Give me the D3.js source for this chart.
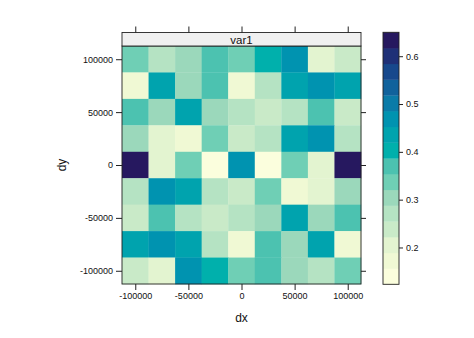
<!DOCTYPE html>
<html>
<head>
<meta charset="utf-8">
<script src="https://cdn.jsdelivr.net/npm/d3@7"></script>
<style>
    body { margin: 0; background: #fff; }
    text { font-family: "Liberation Sans", Arial, Helvetica, sans-serif; fill: #111; }
</style>
</head>
<body>
<svg id="chart" width="474" height="338"></svg>
<script>
// lag grid (cell centres)
var dxValues = [-100000, -75000, -50000, -25000, 0, 25000, 50000, 75000, 100000];
var dyValues = [100000, 75000, 50000, 25000, 0, -25000, -50000, -75000, -100000];

// semivariance, one row per dy (top row first)
var row1 = [0.335, 0.270, 0.305, 0.370, 0.335, 0.400, 0.470, 0.205, 0.240];
var row2 = [0.170, 0.435, 0.305, 0.370, 0.170, 0.270, 0.435, 0.470, 0.435];
var row3 = [0.370, 0.305, 0.435, 0.305, 0.270, 0.240, 0.270, 0.370, 0.240];
var row4 = [0.305, 0.205, 0.170, 0.335, 0.240, 0.270, 0.435, 0.470, 0.270];
var row5 = [0.650, 0.205, 0.335, 0.123, 0.470, 0.123, 0.335, 0.205, 0.650];
var row6 = [0.270, 0.470, 0.435, 0.270, 0.240, 0.335, 0.170, 0.205, 0.305];
var row7 = [0.240, 0.370, 0.270, 0.240, 0.270, 0.305, 0.435, 0.305, 0.370];
var row8 = [0.435, 0.470, 0.435, 0.270, 0.170, 0.370, 0.305, 0.435, 0.170];
var row9 = [0.240, 0.205, 0.470, 0.400, 0.335, 0.370, 0.305, 0.270, 0.335];
var gamma = [row1, row2, row3, row4, row5, row6, row7, row8, row9];

var xTicks = [-100000, -50000, 0, 50000, 100000];
var yTicks = [-100000, -50000, 0, 50000, 100000];
var colorTicks = [0.2, 0.3, 0.4, 0.5, 0.6];
var stripLabel = "var1";

// 16 regions, light -> dark
var palette = ["#fbfedd", "#f0f9d4", "#e3f4d0", "#c9eac8", "#b5e3c3", "#9bd8bb",
               "#6fcfb5", "#4cc2b0", "#00b0ac", "#00a3ae", "#0093b0", "#0a7ba8",
               "#10629c", "#17488c", "#1f3077", "#26185f"];

var svg = d3.select("#chart");
var cellStep = 25000;

var x = d3.scaleLinear().domain([-112500, 112500]).range([122, 361]);
var y = d3.scaleLinear().domain([-112500, 112500]).range([284, 46]);

var cells = [];
gamma.forEach(function(row, i){
    row.forEach(function(v, j){
        cells.push({dx: dxValues[j], dy: dyValues[i], v: v});
    });
});

var ext = d3.extent(cells, function(d){ return d.v; });
var color = d3.scaleQuantize().domain(ext).range(palette);

svg.append("g").selectAll("rect")
    .data(cells)
    .enter().append("rect")
    .attr("x", function(d){ return x(d.dx - cellStep/2); })
    .attr("y", function(d){ return y(d.dy + cellStep/2); })
    .attr("width", function(d){ return x(d.dx + cellStep/2) - x(d.dx - cellStep/2) + 0.3; })
    .attr("height", function(d){ return y(d.dy - cellStep/2) - y(d.dy + cellStep/2) + 0.3; })
    .attr("fill", function(d){ return color(d.v); });

// panel border
svg.append("rect")
    .attr("x", 122).attr("y", 46)
    .attr("width", 239).attr("height", 238)
    .attr("fill", "none").attr("stroke", "#222").attr("stroke-width", 0.9);

// strip
svg.append("rect")
    .attr("x", 122).attr("y", 32.5)
    .attr("width", 239).attr("height", 13.5)
    .attr("fill", "#f0f0f0").attr("stroke", "#222").attr("stroke-width", 0.9);
svg.append("text")
    .attr("x", 241.5).attr("y", 43.6)
    .attr("text-anchor", "middle")
    .style("font-size", "11.5px")
    .text(stripLabel);

// axes
var axisStyle = function(g){
    g.select(".domain").remove();
    g.selectAll("line").attr("stroke", "#222");
    g.selectAll("text").style("font-size", "9px");
};

svg.append("g")
    .attr("transform", "translate(0,284)")
    .call(d3.axisBottom(x).tickValues(xTicks).tickSize(6).tickPadding(3).tickFormat(d3.format("d")))
    .call(axisStyle)
    .call(function(g){ g.selectAll("text").text(function(d){ return d < 0 ? "-" + Math.abs(d) : d; }); });

svg.append("g")
    .attr("transform", "translate(0,32.5)")
    .call(d3.axisTop(x).tickValues(xTicks).tickSize(6).tickFormat(""))
    .call(axisStyle);

svg.append("g")
    .attr("transform", "translate(122,0)")
    .call(d3.axisLeft(y).tickValues(yTicks).tickSize(6).tickPadding(3))
    .call(axisStyle)
    .call(function(g){ g.selectAll("text").text(function(d){ return d < 0 ? "-" + Math.abs(d) : d; }); });

svg.append("g")
    .attr("transform", "translate(361,0)")
    .call(d3.axisRight(y).tickValues(yTicks).tickSize(5).tickFormat(""))
    .call(axisStyle);

// axis titles
svg.append("text")
    .attr("x", 241.5).attr("y", 322)
    .attr("text-anchor", "middle")
    .style("font-size", "12px")
    .text("dx");
svg.append("text")
    .attr("transform", "translate(66,165) rotate(-90)")
    .attr("text-anchor", "middle")
    .style("font-size", "12px")
    .text("dy");

// colour key
var cy = d3.scaleLinear().domain(ext).range([284.3, 32.3]);
var bins = palette.map(function(c, i){
    var lo = ext[0] + (ext[1] - ext[0]) * i / palette.length;
    var hi = ext[0] + (ext[1] - ext[0]) * (i + 1) / palette.length;
    return {lo: lo, hi: hi, c: c};
});
svg.append("g").selectAll("rect")
    .data(bins)
    .enter().append("rect")
    .attr("x", 383).attr("width", 16)
    .attr("y", function(d){ return cy(d.hi); })
    .attr("height", function(d){ return cy(d.lo) - cy(d.hi) + 0.3; })
    .attr("fill", function(d){ return d.c; });
svg.append("rect")
    .attr("x", 383).attr("y", 32.3)
    .attr("width", 16).attr("height", 252)
    .attr("fill", "none").attr("stroke", "#222").attr("stroke-width", 0.9);
svg.append("g")
    .attr("transform", "translate(399,0)")
    .call(d3.axisRight(cy).tickValues(colorTicks).tickSize(4).tickPadding(3).tickFormat(d3.format(".1f")))
    .call(axisStyle);
</script>
</body>
</html>
